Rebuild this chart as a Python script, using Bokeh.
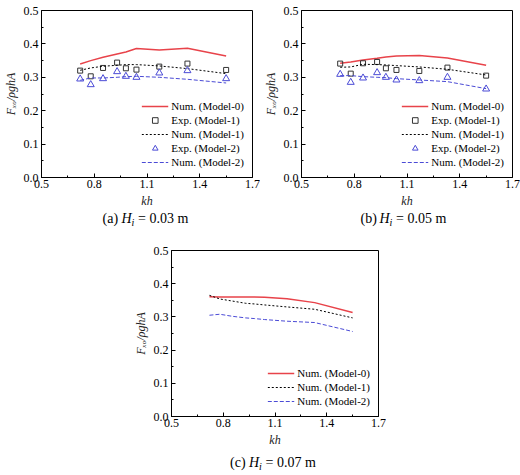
from bokeh.plotting import figure
from bokeh.models import (Range1d, FixedTicker, PrintfTickFormatter, Legend, LegendItem,
                          Spacer)
from bokeh.layouts import column, row
from bokeh.core.properties import value
from bokeh.embed import file_html
from bokeh.resources import INLINE

# ---------------- data ----------------
kh = [0.72, 0.78, 0.85, 0.93, 0.98, 1.04, 1.17, 1.33, 1.55]

exp1_a = [0.320, 0.303, 0.328, 0.344, 0.327, 0.323, 0.332, 0.341, 0.322]
exp2_a = [0.295, 0.278, 0.296, 0.317, 0.303, 0.300, 0.313, 0.320, 0.296]
num0_a = [0.340, 0.350, 0.360, 0.370, 0.376, 0.386, 0.382, 0.387, 0.364]
num1_a = [0.321, 0.328, 0.333, 0.336, 0.338, 0.338, 0.334, 0.326, 0.311]
num2_a = [0.291, 0.298, 0.298, 0.300, 0.302, 0.303, 0.300, 0.294, 0.283]

exp1_b = [0.341, 0.311, 0.342, 0.346, 0.327, 0.322, 0.319, 0.329, 0.305]
exp2_b = [0.309, 0.285, 0.298, 0.314, 0.300, 0.292, 0.290, 0.300, 0.265]
num0_b = [0.342, 0.346, 0.352, 0.357, 0.361, 0.364, 0.365, 0.358, 0.336]
num1_b = [0.330, 0.331, 0.339, 0.338, 0.337, 0.335, 0.331, 0.324, 0.307]
num2_b = [0.305, 0.305, 0.302, 0.300, 0.299, 0.296, 0.292, 0.287, 0.266]

num0_c = [0.361, 0.360, 0.360, 0.360, 0.360, 0.359, 0.355, 0.343, 0.313]
num1_c = [0.365, 0.354, 0.348, 0.341, 0.339, 0.336, 0.330, 0.323, 0.297]
num2_c = [0.305, 0.308, 0.302, 0.297, 0.295, 0.292, 0.287, 0.283, 0.256]

x_ticks = [0.5, 0.8, 1.1, 1.4, 1.7]
x_minor = [0.65, 0.95, 1.25, 1.55]
y_ticks = [0.0, 0.1, 0.2, 0.3, 0.4, 0.5]
y_minor = [0.05, 0.15, 0.25, 0.35, 0.45]

captions = [("(a)", "H", "i", "= 0.03 m"),
            ("(b)", "H", "i", "= 0.05 m"),
            ("(c)", "H", "i", "= 0.07 m")]

FONT = "Liberation Serif"
RED = "#e8434a"
BLUE = "#4b4bd6"
GREY = "#333333"


def make_panel(width, height, bl, br, bt, bb):
    p = figure(width=width, height=height, output_backend="svg", toolbar_location=None,
               x_range=Range1d(0.5, 1.7), y_range=Range1d(0.0, 0.5),
               min_border_left=bl, min_border_right=br, min_border_top=bt,
               min_border_bottom=bb)
    p.outline_line_color = "black"
    p.outline_line_width = 1
    p.grid.visible = False
    p.background_fill_color = "white"
    p.border_fill_color = "white"
    for ax in (p.xaxis[0], p.yaxis[0]):
        ax.axis_line_color = "black"
        ax.major_tick_in = 4
        ax.major_tick_out = 0
        ax.minor_tick_in = 2
        ax.minor_tick_out = 0
        ax.major_label_text_font = FONT
        ax.major_label_text_font_size = "12px"
        ax.major_label_text_color = "black"
        ax.major_label_standoff = 2
        ax.axis_label_text_font = FONT
        ax.axis_label_text_font_style = "italic"
        ax.axis_label_text_font_size = "12px"
        ax.axis_label_text_color = "#222222"
        ax.axis_label_standoff = 3
        ax.formatter = PrintfTickFormatter(format="%.1f")
    p.yaxis[0].major_label_standoff = 3
    p.xaxis[0].ticker = FixedTicker(ticks=x_ticks, minor_ticks=x_minor)
    p.yaxis[0].ticker = FixedTicker(ticks=y_ticks, minor_ticks=y_minor)
    p.xaxis[0].axis_label = "kh"
    p.yaxis[0].axis_label = "Fₓₒ/ρghA"
    return p


def make_caption(width, height, cx, cy, caption):
    c = figure(width=width, height=height, output_backend="svg", toolbar_location=None,
               x_range=Range1d(0, width), y_range=Range1d(height, 0),
               x_axis_type=None, y_axis_type=None,
               min_border_left=0, min_border_right=0, min_border_top=0, min_border_bottom=0)
    c.outline_line_color = None
    c.grid.visible = False
    pre, h, sub, post = caption
    parts = [(pre, -42.9, "normal", "14px", 0),
             (h, -23.9, "italic", "14px", 0),
             (sub, -14.0, "italic", "10px", 4),
             (post, -7.4, "normal", "14px", 0)]
    for txt, xo, style, size, yo in parts:
        c.text(x=[cx], y=[cy], text=[txt], x_offset=xo, y_offset=yo,
               text_font=value(FONT), text_font_style=style, text_font_size=size,
               text_align="left", text_baseline="middle", text_color="black")
    return c


def style_legend(p, items):
    leg = Legend(items=items, location="bottom_right")
    leg.border_line_color = None
    leg.background_fill_alpha = 0
    leg.label_text_font = FONT
    leg.label_text_font_size = "11px"
    leg.label_text_color = "black"
    leg.glyph_width = 27
    leg.glyph_height = 14
    leg.label_height = 14
    leg.label_standoff = 3
    leg.spacing = 0
    leg.padding = 0
    leg.margin = 8
    p.add_layout(leg, "center")


def full_panel(p, n0, e1, n1, e2, n2):
    r0 = p.line(kh, n0, line_color=RED, line_width=1.5)
    re1 = p.scatter(kh, e1, marker="square", size=5, fill_color=None, line_color=GREY, line_width=1)
    r1 = p.line(kh, n1, line_color="black", line_width=1, line_dash="2 2")
    re2 = p.scatter(kh, e2, marker="triangle", size=7, fill_color=None, line_color=BLUE, line_width=1)
    r2 = p.line(kh, n2, line_color=BLUE, line_width=1, line_dash="4 2")
    style_legend(p, [LegendItem(label="Num. (Model-0)", renderers=[r0]),
                     LegendItem(label="Exp. (Model-1)", renderers=[re1]),
                     LegendItem(label="Num. (Model-1)", renderers=[r1]),
                     LegendItem(label="Exp. (Model-2)", renderers=[re2]),
                     LegendItem(label="Num. (Model-2)", renderers=[r2])])


pa = make_panel(260, 210, 41, 8, 10, 31)
full_panel(pa, num0_a, exp1_a, num1_a, exp2_a, num2_a)

pb = make_panel(260, 210, 41, 8, 10, 31)
full_panel(pb, num0_b, exp1_b, num1_b, exp2_b, num2_b)

pc = make_panel(256, 221, 41, 8, 22, 31)
c0 = pc.line(kh, num0_c, line_color=RED, line_width=1.5)
c1 = pc.line(kh, num1_c, line_color="black", line_width=1, line_dash="2 2")
c2 = pc.line(kh, num2_c, line_color=BLUE, line_width=1, line_dash="4 2")
style_legend(pc, [LegendItem(label="Num. (Model-0)", renderers=[c0]),
                  LegendItem(label="Num. (Model-1)", renderers=[c1]),
                  LegendItem(label="Num. (Model-2)", renderers=[c2])])

cap_a = make_caption(260, 18, 145, 8, captions[0])
cap_b = make_caption(260, 18, 143, 8, captions[1])
cap_c = make_caption(256, 24, 142.5, 13, captions[2])

layout = column(row(pa, pb),
                row(cap_a, cap_b),
                row(Spacer(width=130, height=221), pc),
                row(Spacer(width=130, height=24), cap_c))

open("out.html", "w").write(file_html(layout, INLINE))
